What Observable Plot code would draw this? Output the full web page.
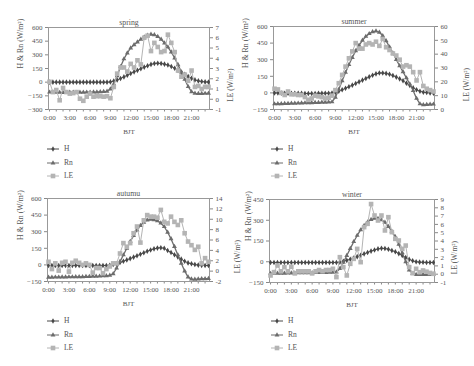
<!DOCTYPE html>
<html><head><meta charset="utf-8">
<script src="https://cdn.jsdelivr.net/npm/d3@7"></script>
<script src="https://cdn.jsdelivr.net/npm/@observablehq/plot@0.6"></script>
<style>
body{margin:0;background:#fff;}
#root{position:relative;width:474px;height:366px;overflow:hidden;font-family:"Liberation Serif",serif;color:#555;background:#fff;}
.p{position:absolute;}
.leg{position:absolute;font-size:7.5px;line-height:1;}
.leg .row{position:absolute;left:0;display:flex;align-items:center;white-space:nowrap;}
.leg svg{display:block;margin-right:5px;}
</style></head>
<body><div id="root"></div>
<script>
// ---- categories ----
const hours = [0,0.5,1,1.5,2,2.5,3,3.5,4,4.5,5,5.5,6,6.5,7,7.5,8,8.5,9,9.5,10,10.5,11,11.5,
               12,12.5,13,13.5,14,14.5,15,15.5,16,16.5,17,17.5,18,18.5,19,19.5,20,20.5,21,21.5,22,22.5,23,23.5];
const hourTicks = [0,1,2,3,4,5,6,7,8,9,10,11,12,13,14,15,16,17,18,19,20,21,22,23];
const xTickLabels = {0:"0:00",3:"3:00",6:"6:00",9:"9:00",12:"12:00",15:"15:00",18:"18:00",21:"21:00"};
const seriesNames = ["H","Rn","LE"];
const leftLabel = "H & Rn (W/m²)", rightLabel = "LE (W/m²)", xLabel = "BJT";

// ---- spring ----
const springH = [0,0,0,0,0,0,0,0,0,0,0,0,0,0,0,0,0,0,
  3,12,25,40,58,76,95,113,130,148,165,180,195,205,208,205,198,188,172,152,130,108,85,62,42,25,14,7,3,1];
const springRn = [-110,-112,-113,-113,-114,-114,-112,-112,-113,-112,-111,-110,-110,-109,-108,-106,-104,-100,
  -75,-20,70,170,255,320,375,410,440,470,495,515,525,520,500,470,430,385,330,265,190,110,30,-50,-105,-122,-125,-125,-124,-123];
const springLE = [1.7,0.7,0.9,-0.1,1.1,0.7,0.55,0.6,0.7,0.05,-0.15,0.25,0.55,0.25,0.3,0.3,0.25,0.3,
  0.1,1.2,2.5,3.1,3.1,2.7,3.45,3.1,3.8,3.4,6.0,6.2,4.7,5.5,5.1,4.6,4.7,6.3,5.5,4.6,2.8,2.2,2.4,1.8,2.8,1.2,1.3,1.0,1.2,1.2];
const springLeftTicks = [-300,-150,0,150,300,450,600];
const springRightTicks = [-1,0,1,2,3,4,5,6,7];

// ---- summer ----
const summerH = [0,0,-2,-3,-3,-4,-4,-4,-4,-5,-5,-5,-5,-4,-3,-3,-3,-2,
  5,15,28,42,56,70,85,100,115,130,145,160,172,180,180,176,168,157,143,127,110,88,68,45,28,15,6,3,0,-3];
const summerRn = [-100,-99,-98,-97,-96,-95,-94,-93,-92,-91,-90,-89,-88,-87,-86,-85,-84,-82,
  -40,30,110,185,255,320,380,430,475,510,535,552,558,548,515,470,415,360,300,245,190,135,80,20,-50,-100,-108,-105,-103,-102];
const summerLE = [15,14.5,12,10.5,13,11,11,10.5,10.5,9,7,8,10,9.5,9,8,8.5,10,
  14,19,25,31,37,42,48,44,44,47,48,47,49,46,51,45,43,40.5,39,36,31,32,31,27,21,27,17,15,14,13];
const summerLeftTicks = [-150,0,150,300,450,600];
const summerRightTicks = [0,10,20,30,40,50,60];

// ---- autumn ----
const autumnH = [-5,-5,-6,-6,-5,-5,-6,-5,-5,-5,-6,-5,-5,-5,-5,-5,-5,-5,
  -3,3,12,22,33,45,57,70,83,96,110,123,135,145,152,155,150,130,112,92,72,52,33,18,10,3,-2,-4,-5,-5];
const autumnRn = [-112,-112,-111,-111,-110,-110,-109,-109,-108,-108,-107,-106,-105,-104,-103,-102,-100,-98,
  -95,-80,-30,30,90,150,210,265,315,355,385,405,412,408,398,378,345,295,235,165,90,15,-55,-110,-128,-130,-128,-126,-125,-124];
const autumnLE = [1.8,0.4,1.5,0.1,1.6,1.8,-0.1,1.6,2.0,1.6,1.2,1.5,1.2,-0.3,0.6,0.6,-0.4,0.4,
  0.9,1.5,1.5,3.4,5.4,4.7,5.4,7.3,8.6,5.5,9.8,10.8,10.5,10.5,10.3,11.8,9.5,9.2,10.5,9.5,8.9,9.8,7.3,5.7,5.0,4.1,4.7,1.5,2.5,1.8];
const autumnLeftTicks = [-150,0,150,300,450,600];
const autumnRightTicks = [-2,0,2,4,6,8,10,12,14];

// ---- winter ----
const winterH = [-5,-5,-5,-5,-5,-5,-5,-5,-5,-5,-5,-5,-5,-5,-5,-5,-5,-5,-5,-5,
  -3,3,10,18,27,37,47,57,67,77,85,93,97,96,90,81,72,59,45,30,17,7,0,-3,-4,-5,-5,-5];
const winterRn = [-85,-84,-84,-83,-83,-82,-82,-82,-81,-81,-80,-80,-80,-79,-79,-78,-78,-77,-76,-75,
  -50,-5,45,95,145,190,230,262,287,305,313,312,302,285,255,220,180,125,65,0,-60,-85,-92,-93,-93,-92,-92,-91];
const winterLE = [-0.15,0.25,1.05,0.35,0.85,0.35,0.9,0.1,0.35,0.35,0.35,0.35,0.1,0.35,0.5,0.35,0.5,0.5,0.65,-0.35,
  2.05,0.85,-0.15,1.25,1.85,3.05,1.45,5.67,6.07,8.45,7.07,6.47,7.07,5.27,6.87,5.07,4.26,4.06,3.05,3.45,0.85,0.12,0.65,0.24,0.45,0.3,0.15,0.05];
const winterLeftTicks = [-150,0,150,300,450];
const winterRightTicks = [-1,0,1,2,3,4,5,6,7,8,9];

// ---- styling ----
const colH = "#484848", colRn = "#6c6c6c", colLE = "#b4b4b4";
const sym = {H: "diamond", Rn: "triangle", LE: "square"};
const col = {H: colH, Rn: colRn, LE: colLE};
const rad = {H: 1.7, Rn: 1.8, LE: 2.6};

const panels = [
  {title:"spring", H:springH, Rn:springRn, LE:springLE, lt:springLeftTicks, rt:springRightTicks,
   left:0, top:0, ml:48, mr:28, mt:27, mb:31, ldx:-28, rdx:21, leg:{x:47, y:144}},
  {title:"summer", H:summerH, Rn:summerRn, LE:summerLE, lt:summerLeftTicks, rt:summerRightTicks,
   left:237, top:0, ml:36, mr:40, mt:26, mb:31, ldx:-28, rdx:32, leg:{x:271, y:144}},
  {title:"autumu", H:autumnH, Rn:autumnRn, LE:autumnLE, lt:autumnLeftTicks, rt:autumnRightTicks,
   left:0, top:171, ml:47, mr:28, mt:27, mb:30, ldx:-27, rdx:28, leg:{x:47, y:316}},
  {title:"winter", H:winterH, Rn:winterRn, LE:winterLE, lt:winterLeftTicks, rt:winterRightTicks,
   left:237, top:171, ml:32, mr:40, mt:28, mb:29, ldx:-21, rdx:20, leg:{x:271, y:316}}
];

const root = document.getElementById("root");

function makePanel(p) {
  const a = p.lt[0], b = p.lt[p.lt.length - 1];
  const c = p.rt[0], d = p.rt[p.rt.length - 1];
  const toL = v => a + (v - c) * (b - a) / (d - c);
  const toR = v => +(c + (v - a) * (d - c) / (b - a)).toFixed(6);
  const rows = hours.map((t, i) => ({t, H: p.H[i], Rn: p.Rn[i], LE: toL(p.LE[i])}));
  const marks = [
    Plot.axisX(hourTicks, {tickFormat: v => xTickLabels[v] ?? "", tickSize: 2.5, tickPadding: 3,
      stroke: "#888", label: xLabel, labelAnchor: "center", labelArrow: "none", labelOffset: 24}),
    Plot.axisY(p.lt, {anchor: "left", tickSize: 3, tickPadding: 3, stroke: "#888", label: null}),
    Plot.axisY(p.rt.map(toL), {anchor: "right", tickFormat: v => String(toR(v)), tickSize: 3, tickPadding: 3,
      stroke: "#888", label: null}),
    Plot.text([leftLabel], {text: v => v, frameAnchor: "left", rotate: -90, dx: p.ldx, fontSize: 7.8}),
    Plot.text([rightLabel], {text: v => v, frameAnchor: "right", rotate: -90, dx: p.rdx, fontSize: 7.5}),
    Plot.frame({stroke: "#999", strokeWidth: 1})
  ];
  for (const s of seriesNames) {
    marks.push(Plot.line(rows, {x: "t", y: s, stroke: col[s], strokeWidth: s === "Rn" ? 1.3 : 1}));
    marks.push(Plot.dot(rows, {x: "t", y: s, symbol: sym[s], fill: col[s], stroke: "none", r: rad[s]}));
  }
  marks.push(Plot.text([p.title], {text: v => v, frameAnchor: "top", dy: -8, fontSize: 7.8}));
  const svg = Plot.plot({
    width: 237, height: 140,
    marginLeft: p.ml, marginRight: p.mr, marginTop: p.mt, marginBottom: p.mb,
    x: {domain: [-0.15, 23.65]},
    y: {domain: [a, b]},
    style: {fontFamily: "'Liberation Serif', serif", fontSize: "7px", color: "#555", background: "transparent", overflow: "visible"},
    marks
  });
  svg.classList.add("p");
  svg.style.left = p.left + "px";
  svg.style.top = p.top + "px";
  root.appendChild(svg);

  // legend
  const leg = document.createElement("div");
  leg.className = "leg";
  leg.style.left = p.leg.x + "px";
  leg.style.top = p.leg.y + "px";
  seriesNames.forEach((s, i) => {
    const row = document.createElement("div");
    row.className = "row";
    row.style.top = (i * 13.5) + "px";
    const ns = "http://www.w3.org/2000/svg";
    const sv = document.createElementNS(ns, "svg");
    sv.setAttribute("width", 12); sv.setAttribute("height", 10);
    const ln = document.createElementNS(ns, "line");
    ln.setAttribute("x1", 0); ln.setAttribute("x2", 12); ln.setAttribute("y1", 5); ln.setAttribute("y2", 5);
    ln.setAttribute("stroke", col[s]); ln.setAttribute("stroke-width", 1);
    sv.appendChild(ln);
    const pth = document.createElementNS(ns, "path");
    const typ = s === "H" ? d3.symbolDiamond : s === "Rn" ? d3.symbolTriangle : d3.symbolSquare;
    pth.setAttribute("d", d3.symbol().type(typ).size(Math.PI * rad[s] * rad[s])());
    pth.setAttribute("transform", "translate(6,5)");
    pth.setAttribute("fill", col[s]);
    sv.appendChild(pth);
    row.appendChild(sv);
    const tx = document.createElement("span");
    tx.textContent = s;
    row.appendChild(tx);
    leg.appendChild(row);
  });
  root.appendChild(leg);
}
panels.forEach(makePanel);
</script>
</body></html>
